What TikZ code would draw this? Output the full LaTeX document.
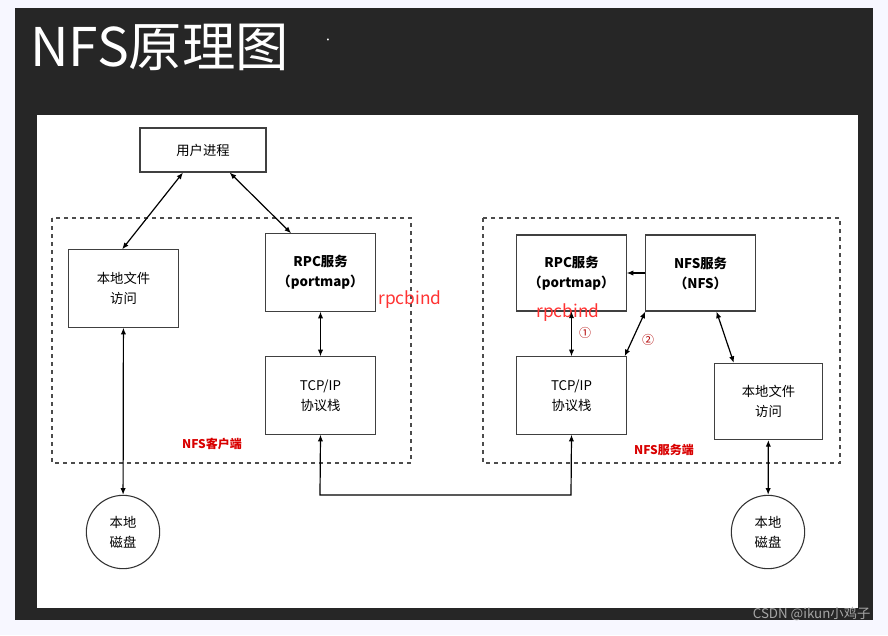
\documentclass[tikz,border=0pt]{standalone}
\usepackage{fontspec}
\setmainfont{Noto Sans CJK SC}
\usetikzlibrary{arrows.meta}
\begin{document}
\begin{tikzpicture}[x={(0.75pt,0)},y={(0,-0.75pt)},
  box/.style={draw=black!75,line width=0.8pt,fill=white,inner sep=0pt,align=center,font=\fontsize{10}{15}\selectfont},
  dbox/.style={draw=black!70,dashed,line width=0.8pt},
  link/.style={{Latex[length=5pt,width=4pt]}-{Latex[length=5pt,width=4pt]},line width=0.9pt},
  redlbl/.style={text=red!85!black,font=\bfseries\fontsize{9}{10}\selectfont},
  rpcb/.style={text=red!80,font=\fontsize{13}{14}\selectfont,inner sep=0pt},
  circ/.style={draw=black!80,line width=0.8pt,circle,minimum size=55pt,fill=white,align=center,font=\fontsize{10}{15}\selectfont}]
\useasboundingbox (0,0) rectangle (888,635);
\fill[blue!3!white] (0,0) rectangle (888,635);
\fill[black!85] (15,8) rectangle (873,620);
\fill[white] (37,115) rectangle (858,608);
\node[anchor=west,text=white,font=\fontsize{40}{44}\selectfont,inner sep=0pt] (title) at (30,47) {NFS原理图};
\node[text=white,font=\fontsize{7}{8}\selectfont] (cur) at (328,41) {•};
\node[anchor=east,text=black!35,font=\fontsize{10}{11}\selectfont,inner sep=1pt] (wm) at (872,614) {CSDN @ikun小鸡子};
\draw[dbox] (52,218) rectangle (411,463);
\draw[dbox] (483,218) rectangle (840,463);
\node[box,minimum width=94.5pt,minimum height=33pt] (user) at (203,150) {用户进程};
\node[box,minimum width=82pt,minimum height=58pt] (lfl) at (123.5,288.5) {本地文件\\访问};
\node[box,minimum width=82pt,minimum height=58pt,font=\bfseries\fontsize{10}{15}\selectfont] (rpcl) at (320.5,272.5) {RPC服务\\（portmap）};
\node[box,minimum width=82pt,minimum height=58pt] (tcpl) at (320.5,395.5) {TCP/IP\\协议栈};
\node[box,minimum width=82pt,minimum height=57pt,font=\bfseries\fontsize{10}{15}\selectfont] (rpcr) at (571.5,273) {RPC服务\\（portmap）};
\node[box,minimum width=82pt,minimum height=57pt,font=\bfseries\fontsize{10}{15}\selectfont] (nfs) at (700.5,273) {NFS服务\\（NFS）};
\node[box,minimum width=82pt,minimum height=58pt] (tcpr) at (571.5,395.5) {TCP/IP\\协议栈};
\node[box,minimum width=81pt,minimum height=57pt] (lfr) at (768.5,401.5) {本地文件\\访问};
\node[circ] (dl) at (123,532) {本地\\磁盘};
\node[circ] (dr) at (768,532) {本地\\磁盘};
\node[redlbl] (cl) at (212,444) {NFS客户端};
\node[redlbl] (sl) at (664,450) {NFS服务端};
\node[rpcb] (rb1) at (410,300) {rpcbind};
\node[rpcb] (rb2) at (568,313) {rpcbind};
\node[text=red!70!black,font=\fontsize{9}{10}\selectfont] (n1) at (585,333) {①};
\node[text=red!70!black,font=\fontsize{9}{10}\selectfont] (n2) at (648,340) {②};
\draw[link] ([xshift=-15pt]user.south) -- ([xshift=-1pt]lfl.north);
\draw[link] ([xshift=20pt]user.south) -- ([xshift=-22pt]rpcl.north);
\draw[link] (rpcl) -- (tcpl);
\draw[link] (lfl) -- (dl);
\draw[link] (tcpl.south) -- (320,495) -- (571,495) -- (tcpr.south);
\draw[link] (rpcr) -- (tcpr);
\draw[-{Latex[length=5pt,width=4pt]},line width=0.9pt] (nfs) -- (rpcr);
\draw[link] (nfs.south west) -- ([xshift=-1.5pt]tcpr.north east);
\draw[link] ([xshift=12pt]nfs.south) -- ([xshift=-26pt]lfr.north);
\draw[link] (lfr) -- (dr);
\end{tikzpicture}
\end{document}
